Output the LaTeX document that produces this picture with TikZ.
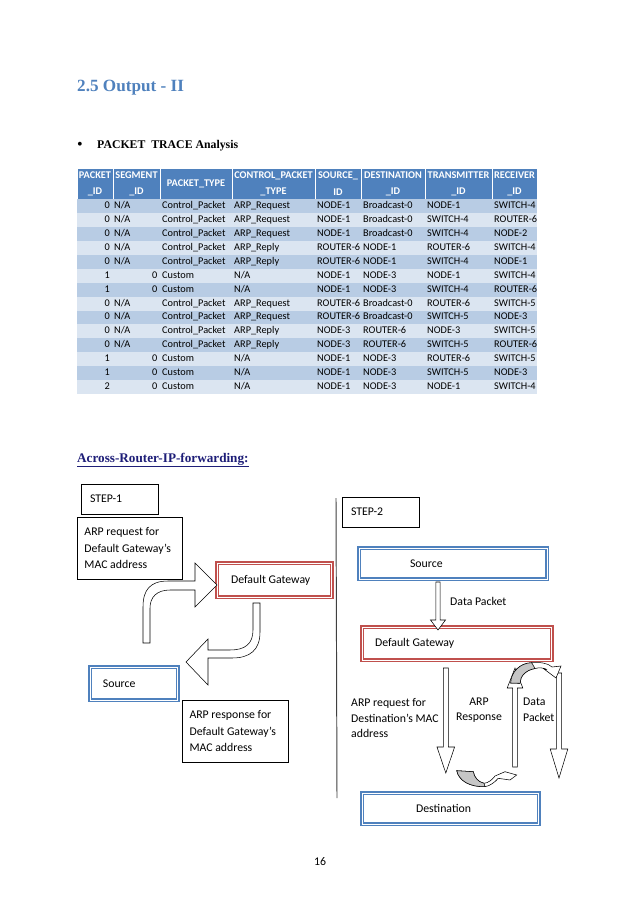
\documentclass[tikz,border=0pt]{standalone}
\usepackage{fontspec}
\setmainfont{Carlito}
\newfontfamily\timesfont{Liberation Serif}
\usetikzlibrary{positioning, calc}
\definecolor{HeadBlue}{HTML}{4F81BD}
\definecolor{GateRed}{HTML}{C0504D}
\definecolor{RowDark}{HTML}{B8CCE4}
\definecolor{RowLight}{HTML}{DBE5F1}
\definecolor{LinkNavy}{HTML}{1E1E78}
\newcommand{\notapp}{N/A}
% hollow block arrow: x, y start, y head base, y tip, shaft half width, head half width
\newcommand{\vblock}[6]{%
  \draw[blockarrow] ({#1-#5},#2) -- ({#1-#5},#3) -- ({#1-#6},#3) -- (#1,#4)
    -- ({#1+#6},#3) -- ({#1+#5},#3) -- ({#1+#5},#2) -- cycle;}

\tikzset{
  box/.style={draw, line width=0.6pt, align=flush left, inner ysep=2pt,
              font=\fontsize{11}{15.8}\selectfont},
  gatebox/.style={box, draw=GateRed, double=white, double distance=0.9pt, line width=1.1pt},
  srcbox/.style={box, draw=HeadBlue, double=white, double distance=0.9pt, line width=1.1pt},
  blockarrow/.style={draw, fill=white, line width=0.5pt},
  hdrcell/.style={fill=HeadBlue, draw=white, line width=0.8pt, minimum height=28.9pt,
                  inner sep=0pt, align=center, text=white,
                  font=\bfseries\fontsize{9.6}{15.5}\selectfont},
  cell/.style={inner sep=0pt, text height=6.6pt, text depth=1.9pt,
               font=\fontsize{9.6}{11}\selectfont},
  lbl/.style={inner sep=0pt, font=\fontsize{11}{14.5}\selectfont}
}

\begin{document}
\begin{tikzpicture}[x=0.933pt, y=-0.933pt]
  \fill[white] (0,0) rectangle (638,902);
  \useasboundingbox (0,0) rectangle (638,902);

  \node[anchor=west, inner sep=0pt, text=HeadBlue,
        font=\timesfont\bfseries\fontsize{16}{18}\selectfont] (title) at (77,88) {2.5 Output - II};
  \node[anchor=west, inner sep=0pt, font=\timesfont\fontsize{15}{15}\selectfont] (bullet) at (77,146) {•};
  \node[anchor=west, inner sep=0pt, font=\timesfont\bfseries\fontsize{11}{13}\selectfont]
        (trace) at (97,146) {PACKET\ \ TRACE Analysis};

  % trace table
  \foreach \xl/\xr/\hd [count=\c] in {77/113/{PACKET\\\_ID}, 113/160/{SEGMENT\\\_ID},
      160/232/{PACKET\_TYPE}, 232/315/{CONTROL\_PACKET\\\_TYPE}, 315/361/{SOURCE\_\\ID},
      361/425/{DESTINATION\\\_ID}, 425/492/{TRANSMITTER\\\_ID}, 492/537/{RECEIVER\\\_ID}}
    \node[hdrcell, minimum width={(\xr-\xl)*0.933pt}] (hdr\c) at ({(\xl+\xr)/2},183.8) {\hd};

  \foreach \pid/\seg/\sx/\sa/\ptype/\ctype/\src/\dst/\tx/\rx [count=\rw] in {
      0/\notapp/114/west/Control\_Packet/ARP\_Request/NODE-1/Broadcast-0/NODE-1/SWITCH-4,
      0/\notapp/114/west/Control\_Packet/ARP\_Request/NODE-1/Broadcast-0/SWITCH-4/ROUTER-6,
      0/\notapp/114/west/Control\_Packet/ARP\_Request/NODE-1/Broadcast-0/SWITCH-4/NODE-2,
      0/\notapp/114/west/Control\_Packet/ARP\_Reply/ROUTER-6/NODE-1/ROUTER-6/SWITCH-4,
      0/\notapp/114/west/Control\_Packet/ARP\_Reply/ROUTER-6/NODE-1/SWITCH-4/NODE-1,
      1/0/157.5/east/Custom/\notapp/NODE-1/NODE-3/NODE-1/SWITCH-4,
      1/0/157.5/east/Custom/\notapp/NODE-1/NODE-3/SWITCH-4/ROUTER-6,
      0/\notapp/114/west/Control\_Packet/ARP\_Request/ROUTER-6/Broadcast-0/ROUTER-6/SWITCH-5,
      0/\notapp/114/west/Control\_Packet/ARP\_Request/ROUTER-6/Broadcast-0/SWITCH-5/NODE-3,
      0/\notapp/114/west/Control\_Packet/ARP\_Reply/NODE-3/ROUTER-6/NODE-3/SWITCH-5,
      0/\notapp/114/west/Control\_Packet/ARP\_Reply/NODE-3/ROUTER-6/SWITCH-5/ROUTER-6,
      1/0/157.5/east/Custom/\notapp/NODE-1/NODE-3/ROUTER-6/SWITCH-5,
      1/0/157.5/east/Custom/\notapp/NODE-1/NODE-3/SWITCH-5/NODE-3,
      2/0/157.5/east/Custom/\notapp/NODE-1/NODE-3/NODE-1/SWITCH-4} {
    \pgfmathsetmacro{\rowy}{199.3+(\rw-0.5)*13.9}
    \ifodd\rw \def\band{RowDark}\else\def\band{RowLight}\fi
    \fill[\band] (77,{\rowy-6.95}) rectangle (537,{\rowy+6.95});
    \node[cell, anchor=east] (pid\rw) at (110,\rowy) {\pid};
    \node[cell, anchor=\sa] (seg\rw) at (\sx,\rowy) {\seg};
    \node[cell, anchor=west] (ptype\rw) at (162,\rowy) {\ptype};
    \node[cell, anchor=west] (ctype\rw) at (234,\rowy) {\ctype};
    \node[cell, anchor=west] (src\rw) at (317,\rowy) {\src};
    \node[cell, anchor=west] (dst\rw) at (363,\rowy) {\dst};
    \node[cell, anchor=west] (tx\rw) at (427,\rowy) {\tx};
    \node[cell, anchor=west] (rx\rw) at (494,\rowy) {\rx};
  }

  \node[anchor=west, inner sep=0pt, text=LinkNavy,
        font=\timesfont\bfseries\fontsize{12.3}{14}\selectfont]
        (across) at (77,460) {\underline{Across-Router-IP-forwarding:}};

  % step 1
  \node[box, minimum height=28pt, text width=55pt, inner xsep=8.4pt] (step1) at (119.5,499) {STEP-1};
  \node[box, minimum height=57.8pt, text width=84pt, inner xsep=7pt] (arpreqgw) at (129.5,548)
        {ARP request for\\Default Gateway’s\\MAC address};
  \node[gatebox, minimum height=31.7pt, text width=81pt, inner xsep=13pt] (gwleft) at (274.5,580)
        {Default Gateway};
  \node[srcbox, minimum height=30.8pt, text width=58pt, inner xsep=12pt] (srcleft) at (134,683.5)
        {Source};
  \node[box, minimum height=57.8pt, text width=84.9pt, inner xsep=7pt] (arprespgw) at (235,731)
        {ARP response for\\Default Gateway’s\\MAC address};

  \draw[blockarrow] (143,643) -- (143,607) .. controls (143,590) and (150,581) .. (168,581)
    -- (195,581) -- (195,563) -- (217,585) -- (195,607) -- (195,590) -- (170,590)
    .. controls (157,590) and (150,597) .. (150,608) -- (150,643) -- cycle;
  \draw[blockarrow] (253,603) -- (260,603) -- (260,632) .. controls (260,650) and (250,658) .. (232,658)
    -- (208,658) -- (208,685) -- (186,662) -- (208,639) -- (208,650) -- (230,650)
    .. controls (245,650) and (253,644) .. (253,630) -- cycle;

  \draw[line width=0.9pt, black!75] (336,498) -- (337,798);

  % step 2
  \node[box, minimum height=28pt, text width=55pt, inner xsep=8.4pt] (step2) at (380.5,512) {STEP-2};
  \node[srcbox, minimum height=28.9pt, text width=80.2pt, inner xsep=47.6pt] (srcright) at (453,563.5)
        {Source};
  \node[gatebox, minimum height=30.8pt, text width=153pt, inner xsep=12.1pt] (gwright) at (457,643.5)
        {Default Gateway};
  \node[srcbox, minimum height=28.9pt, text width=64.2pt, inner xsep=50.4pt] (dest) at (450.5,808.5)
        {Destination};

  \vblock{438}{582}{620}{630}{2.2}{7.5}
  \vblock{445.8}{668}{747}{773}{2.5}{8.8}
  \vblock{515}{767}{688}{668}{2.3}{7.8}
  \vblock{559}{673}{749}{778}{2.7}{8.8}

  \node[lbl, anchor=west] (lbldata) at (450,601) {Data Packet};
  \node[lbl, anchor=west, align=left] (lblreq) at (351,718) {ARP request for\\Destination’s MAC\\address};
  \node[lbl, align=center] (lblresp) at (479,710) {ARP\\Response};
  \node[lbl, anchor=west, align=left] (lbldata2) at (523,709.5) {Data\\Packet};

  % curved turn arrows
  \draw[blockarrow] (456.7,770.7) .. controls (459,781) and (470,787) .. (485,786.7)
    .. controls (490,786) and (495,782) .. (498.3,778.3) -- (510,780) -- (516.7,775) -- (505,771.7)
    -- (495,776) .. controls (492,780) and (488,783) .. (484,783.3)
    .. controls (478,782) and (474,777) .. (473.3,771.7) -- cycle;
  \filldraw[fill=gray!45, line width=0.5pt] (456.7,770.7) .. controls (459,781) and (470,787) .. (485,786.7)
    -- (484,783.3) .. controls (478,782) and (474,777) .. (473.3,771.7) -- cycle;
  \draw[blockarrow] (510.7,683) .. controls (511,672) and (520,663) .. (531.7,662.7)
    .. controls (540,662) and (548,663) .. (552,667) -- (561,666) -- (556,678) -- (544,669)
    -- (547,669.5) .. controls (543,667.5) and (539,667.5) .. (535,668.5)
    .. controls (526,670) and (520,676) .. (520,683.3) -- cycle;
  \filldraw[fill=gray!45, line width=0.5pt] (510.7,683) .. controls (511,672) and (520,663) .. (531.7,662.7)
    -- (535,668.5) .. controls (526,670) and (520,676) .. (520,683.3) -- cycle;

  \node[inner sep=0pt, font=\fontsize{11}{13}\selectfont] (pagenum) at (320,862) {16};
\end{tikzpicture}
\end{document}
